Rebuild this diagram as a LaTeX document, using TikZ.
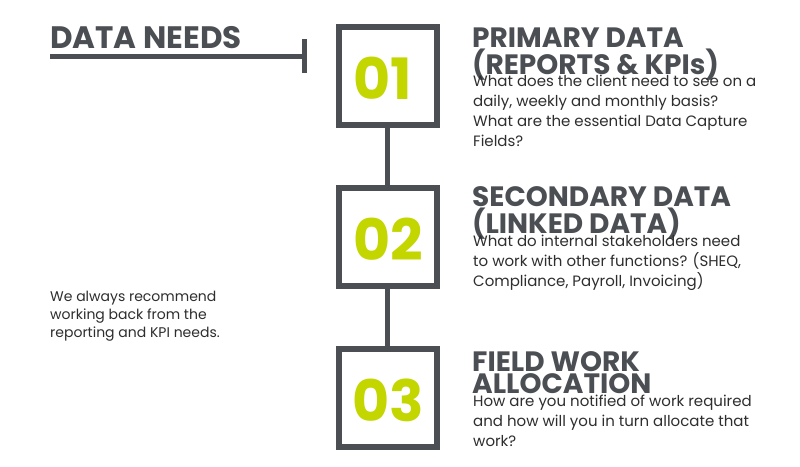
\documentclass[tikz,border=0pt]{standalone}
\usepackage{fontspec}
\setmainfont{Poppins}
\newfontfamily\headfont{Poppins}[UprightFont=* Bold]
\usetikzlibrary{positioning}
\definecolor{dgrey}{HTML}{4B4E53}
\definecolor{lime}{HTML}{C4D600}
\definecolor{btext}{HTML}{2E2E2E}
\tikzset{
  numbox/.style={draw=dgrey, line width=6pt, fill=white, minimum width=98pt, minimum height=98pt, inner sep=0pt},
  conn/.style={draw=dgrey, line width=5pt},
  numtext/.style={text=lime, font=\headfont\fontsize{57}{57}\selectfont, inner sep=0pt, anchor=base},
  headtext/.style={text=dgrey, font=\headfont\fontsize{28}{21.5}\selectfont, align=left, inner sep=0pt, anchor=base west},
  bodytext/.style={text=btext, font=\fontsize{15}{20}\selectfont, align=left, inner sep=0pt, anchor=base west},
}
\begin{document}
\begin{tikzpicture}[x=1pt,y=-1pt]
\useasboundingbox[fill=white] (0,0) rectangle (800,466);
% title
\node[headtext, font=\headfont\fontsize{31}{31}\selectfont] (title) at (50,48) {DATA NEEDS};
\coordinate (ul0) at (50,56);
\coordinate (ul1) at (304.5,56);
\coordinate (tk0) at (304.5,39);
\coordinate (tk1) at (304.5,73);
\draw[conn] (ul0) -- (ul1);
\draw[conn] (tk0) -- (tk1);
% boxes
\node[numbox] (b1) at (388,76) {};
\node[numbox] (b2) at (388,236.5) {};
\node[numbox] (b3) at (388,398) {};
\draw[conn] ([xshift=-0.5pt]b1.south) -- ([xshift=-0.5pt]b2.north);
\draw[conn] ([xshift=-0.5pt]b2.south) -- ([xshift=-0.5pt]b3.north);
\node[numtext] (n1) at (383,99) {01};
\node[numtext] (n2) at (388,260) {02};
\node[numtext] (n3) at (388,421) {03};
% headings (anchor base = last line baseline)
\node[headtext] (h1) at (472,74) {PRIMARY DATA\\(REPORTS \& KPIs)};
\node[bodytext] (t1) at (473,146) {What does the client need to see on a\\daily, weekly and monthly basis?\\What are the essential Data Capture\\Fields?};
\node[headtext] (h2) at (472,233) {SECONDARY DATA\\(LINKED DATA)};
\node[bodytext] (t2) at (473,286) {What do internal stakeholders need\\to work with other functions? (SHEQ,\\Compliance, Payroll, Invoicing)};
\node[headtext] (h3) at (472,393) {FIELD WORK\\ALLOCATION};
\node[bodytext] (t3) at (473,446) {How are you notified of work required\\and how will you in turn allocate that\\work?};
\node[bodytext, font=\fontsize{14}{18}\selectfont] (side) at (50,337) {We always recommend\\working back from the\\reporting and KPI needs.};
\end{tikzpicture}
\end{document}
